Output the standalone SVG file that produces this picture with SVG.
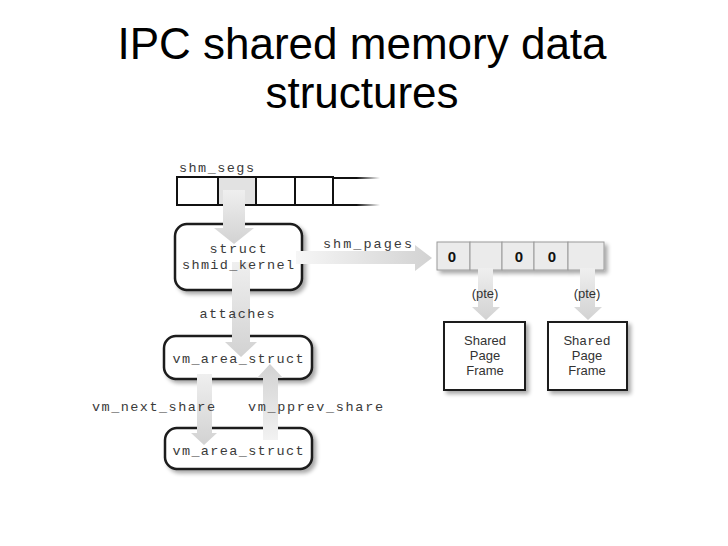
<svg xmlns="http://www.w3.org/2000/svg" width="728" height="546" viewBox="0 0 728 546">
<defs>
<style>
.title{font-family:"Liberation Sans",Arial,sans-serif;font-size:44px;fill:#000;text-anchor:middle}
.mono{font-family:"Liberation Mono","Courier New",monospace;font-size:13.5px;fill:#3a3a3a}
.sans{font-family:"Liberation Sans",Arial,sans-serif;font-size:13px;fill:#333;text-anchor:middle}
.zero{font-family:"Liberation Sans",Arial,sans-serif;font-size:15px;font-weight:bold;fill:#111;text-anchor:middle}
.box{fill:#fff;stroke:#1a1a1a;stroke-width:2.5}
.frame{fill:#fff;stroke:#1a1a1a;stroke-width:2}
.cell{fill:#fff;stroke:#111;stroke-width:2}
.pcell{fill:#ebebeb;stroke:#9a9a9a;stroke-width:1}
.mid{text-anchor:middle}
</style>
<filter id="sh" x="-20%" y="-20%" width="150%" height="150%">
<feGaussianBlur in="SourceAlpha" stdDeviation="2"/>
<feOffset dx="3" dy="3" result="b"/>
<feComponentTransfer><feFuncA type="linear" slope="0.35"/></feComponentTransfer>
<feMerge><feMergeNode/><feMergeNode in="SourceGraphic"/></feMerge>
</filter>
<linearGradient id="gDown" x1="0" y1="0" x2="0" y2="1">
<stop offset="0" stop-color="#efefef"/><stop offset="1" stop-color="#d2d2d2"/>
</linearGradient>
<linearGradient id="gUp" x1="0" y1="1" x2="0" y2="0">
<stop offset="0" stop-color="#f2f2f2"/><stop offset="1" stop-color="#d2d2d2"/>
</linearGradient>
<linearGradient id="gRight" x1="0" y1="0" x2="1" y2="0">
<stop offset="0" stop-color="#f6f6f6"/><stop offset="1" stop-color="#d2d2d2"/>
</linearGradient>
<linearGradient id="fadeLine" x1="0" y1="0" x2="1" y2="0">
<stop offset="0" stop-color="#111"/><stop offset="0.5" stop-color="#111"/><stop offset="1" stop-color="#111" stop-opacity="0"/>
</linearGradient>
</defs>
<rect width="728" height="546" fill="#fff"/>

<g id="title">
<text class="title" x="362" y="59">IPC shared memory data</text>
<text class="title" x="362" y="108">structures</text>
</g>

<g id="shm_segs">
<text class="mono" x="179" y="172" textLength="75" lengthAdjust="spacing">shm_segs</text>
<rect x="333" y="177" width="47" height="2" fill="url(#fadeLine)"/>
<rect x="333" y="204" width="47" height="2" fill="url(#fadeLine)"/>
<rect class="cell" x="177" y="177" width="41" height="28"/>
<rect class="cell" x="218" y="177" width="38" height="28" style="fill:#e2e2e2"/>
<rect class="cell" x="256" y="177" width="39" height="28"/>
<rect class="cell" x="295" y="177" width="38" height="28"/>
</g>

<g id="shmid_kernel">
<rect class="box" x="175" y="224" width="127" height="66" rx="12" filter="url(#sh)"/>
</g>

<g id="vm_area_struct_1">
<rect class="box" x="164" y="336" width="148" height="43" rx="12" filter="url(#sh)"/>
</g>

<g id="vm_area_struct_2">
<rect class="box" x="165" y="428" width="147" height="41" rx="12" filter="url(#sh)"/>
</g>

<g id="shm_pages">
<g filter="url(#sh)">
<rect class="pcell" x="437" y="242" width="33" height="28"/>
<rect class="pcell" x="470" y="242" width="32" height="28"/>
<rect class="pcell" x="502" y="242" width="32" height="28"/>
<rect class="pcell" x="534" y="242" width="34" height="28"/>
<rect class="pcell" x="568" y="242" width="36" height="28"/>
</g>
<text class="zero" x="452" y="262">0</text>
<text class="zero" x="519" y="262">0</text>
<text class="zero" x="552" y="262">0</text>
</g>

<g id="frame_1">
<rect class="frame" x="444" y="322" width="81" height="68" filter="url(#sh)"/>
</g>
<g id="frame_2">
<rect class="frame" x="548" y="322" width="79" height="68" filter="url(#sh)"/>
</g>

<g id="connectors">
<polygon fill="url(#gDown)" points="223,190 245,190 245,228 254,228 234,244 214,228 223,228"/>
<polygon fill="url(#gDown)" points="232,262 250,262 250,342 257,342 241,357 225,342 232,342"/>
<polygon fill="url(#gRight)" points="296,251 415,251 415,245 432,258 415,271 415,264 296,264"/>
<polygon fill="url(#gDown)" points="478,268 493,268 493,307 500,307 486,320 472,307 478,307"/>
<polygon fill="url(#gDown)" points="580,268 595,268 595,307 602,307 588,320 574,307 580,307"/>
<polygon fill="url(#gDown)" points="197,374 212,374 212,433 217,433 204,445 191,433 197,433"/>
<polygon fill="url(#gUp)" points="263,440 278,440 278,378 283,378 270,364 257,378 263,378"/>
</g>

<g id="labels">
<text class="mono mid" x="238" y="253" textLength="57" lengthAdjust="spacing">struct</text>
<text class="mono mid" x="238" y="269" textLength="112" lengthAdjust="spacing">shmid_kernel</text>
<text class="mono" x="323" y="248" textLength="89" lengthAdjust="spacing">shm_pages</text>
<text class="mono mid" x="237" y="318" textLength="75" lengthAdjust="spacing">attaches</text>
<text class="mono mid" x="238" y="363" textLength="131" lengthAdjust="spacing">vm_area_struct</text>
<text class="mono mid" x="238" y="455" textLength="131" lengthAdjust="spacing">vm_area_struct</text>
<text class="mono" x="92" y="411" textLength="123" lengthAdjust="spacing">vm_next_share</text>
<text class="mono" x="248" y="411" textLength="135" lengthAdjust="spacing">vm_pprev_share</text>
<text class="sans" x="485" y="298">(pte)</text>
<text class="sans" x="587" y="298">(pte)</text>
<text class="sans" x="485" y="345">Shared</text>
<text class="sans" x="485" y="360">Page</text>
<text class="sans" x="485" y="375">Frame</text>
<text class="sans" x="587" y="345">Sh<tspan style="font-family:'Liberation Mono','Courier New',monospace">ared</tspan></text>
<text class="sans" x="587" y="360">Page</text>
<text class="sans" x="587" y="375">Frame</text>
</g>
</svg>
